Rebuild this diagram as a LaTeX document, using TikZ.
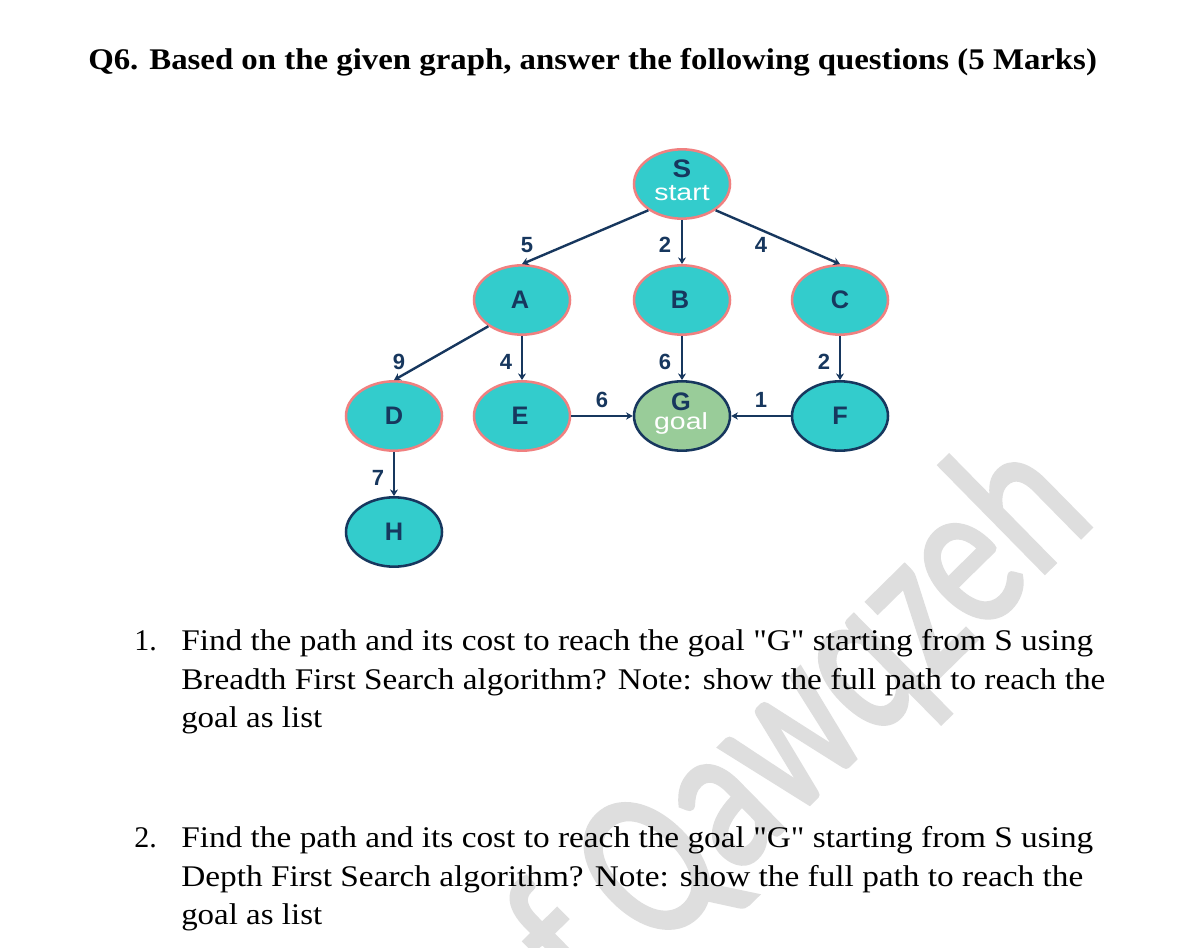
\documentclass[tikz,border=0pt]{standalone}
\usepackage{fontspec}
\usepackage{graphicx}
\setmainfont{Liberation Serif}
\newfontfamily\arialf{Liberation Sans}
\newfontfamily\wmfont[FakeBold=2]{Carlito}
\font\qf="Liberation Serif" at 22.5pt
\usetikzlibrary{arrows.meta,shapes.geometric}
\definecolor{navy}{HTML}{17375E}
\definecolor{tealfill}{HTML}{33CCCC}
\definecolor{pinkline}{HTML}{F08080}
\definecolor{goalfill}{HTML}{99CC99}
\definecolor{wmgray}{HTML}{DEDEDE}
\newcommand{\fitw}[2]{\resizebox{#1}{\height}{#2}}
\newcommand{\strq}{{\qf"}}
\tikzset{
  pinknode/.style={ellipse,draw=pinkline,line width=1.9pt,fill=tealfill,minimum width=72pt,minimum height=52pt,inner sep=0pt},
  navynode/.style={ellipse,draw=navy,line width=1.9pt,fill=tealfill,minimum width=72pt,minimum height=52pt,inner sep=0pt},
  goalnode/.style={navynode,fill=goalfill},
  letter/.style={font=\arialf\bfseries\fontsize{19}{19}\selectfont,text=navy,inner sep=0pt},
  sublabel/.style={font=\arialf\fontsize{17.5}{18}\selectfont,text=white,inner sep=0pt},
  cost/.style={font=\arialf\bfseries\fontsize{16.5}{17}\selectfont,text=navy,inner sep=0pt},
  edge/.style={draw=navy,line width=1.8pt,-{Stealth[length=5pt,width=6pt]}},
  thinedge/.style={draw=navy,line width=1.2pt,-{Stealth[length=5pt,width=5.5pt]}},
  body/.style={anchor=base west,inner sep=0pt,font=\fontsize{22.5}{24}\selectfont},
  titletext/.style={anchor=base west,inner sep=0pt,font=\bfseries\fontsize{22.5}{24}\selectfont},
}
\begin{document}
\begin{tikzpicture}[x=0.75pt,y=-0.75pt]
\useasboundingbox (0,0) rectangle (1196,948);
\fill[white] (0,0) rectangle (1196,948);
\begin{scope}
\clip (0,0) rectangle (1196,948);
\begin{scope}[shift={(1098,520)},rotate=44.5,xscale=0.76]
\node[transform shape,anchor=base east,inner sep=0pt,text=wmgray,font=\wmfont\fontsize{162}{164}\selectfont] (wm) at (0,0) {f Qawqzeh};
\end{scope}
\end{scope}

\node[titletext] (title) at (88,70) {\fitw{756.5pt}{Q6. Based on the given graph, answer the following questions (5 Marks)}};

\node[pinknode] (S) at (682,184) {};
\node[pinknode] (A) at (522,300) {};
\node[pinknode] (B) at (682,300) {};
\node[pinknode] (C) at (840,300) {};
\node[pinknode] (D) at (394,416) {};
\node[pinknode] (E) at (522,416) {};
\node[goalnode] (G) at (682,416) {};
\node[navynode] (F) at (840,416) {};
\node[navynode] (H) at (394,532) {};

\node[letter] (lS) at (682,169) {\scalebox{1.1}[1]{S}};
\node[sublabel] (sS) at (682,193) {\scalebox{1.22}[1]{start}};
\node[letter] (lA) at (520,300) {A};
\node[letter] (lB) at (680,300) {B};
\node[letter] (lC) at (840,300) {C};
\node[letter] (lD) at (394,416) {D};
\node[letter] (lE) at (520,416) {E};
\node[letter] (lG) at (681,402) {G};
\node[sublabel] (sG) at (681,423) {\scalebox{1.22}[1]{goal}};
\node[letter] (lF) at (840,416) {F};
\node[letter] (lH) at (394,532) {H};

\draw[edge] (S.218) -- (A.north);
\draw[edge] (S.south) -- (B.north);
\draw[edge] (S.322) -- (C.north);
\draw[edge] (A.218) -- (D.north);
\draw[edge] (A.south) -- (E.north);
\draw[edge] (B.south) -- (G.north);
\draw[edge] (C.south) -- (F.north);
\draw[edge] (D.south) -- (H.north);
\draw[thinedge] (E.east) -- (G.west);
\draw[thinedge] (F.west) -- (G.east);

\node[cost] (c1) at (527,245) {5};
\node[cost] (c2) at (665,245) {2};
\node[cost] (c3) at (761,245) {4};
\node[cost] (c4) at (399,362) {9};
\node[cost] (c5) at (506,362) {4};
\node[cost] (c6) at (665,362) {6};
\node[cost] (c7) at (824,362) {2};
\node[cost] (c8) at (602,400) {6};
\node[cost] (c9) at (761,400) {1};
\node[cost] (c10) at (378,478) {7};

\node[body] (n1) at (134,650) {1.};
\node[body] (a1) at (181,650) {\fitw{684pt}{Find the path and its cost to reach the goal \strq G\strq{} starting from S using}};
\node[body] (a2) at (181,689) {\fitw{693pt}{Breadth First Search algorithm? Note: show the full path to reach the}};
\node[body] (a3) at (181,727) {\fitw{105.7pt}{goal as list}};
\node[body] (n2) at (134,847) {2.};
\node[body] (b1) at (181,847) {\fitw{684pt}{Find the path and its cost to reach the goal \strq G\strq{} starting from S using}};
\node[body] (b2) at (181,886) {\fitw{676.5pt}{Depth First Search algorithm? Note: show the full path to reach the}};
\node[body] (b3) at (181,924) {\fitw{105.7pt}{goal as list}};
\end{tikzpicture}
\end{document}
